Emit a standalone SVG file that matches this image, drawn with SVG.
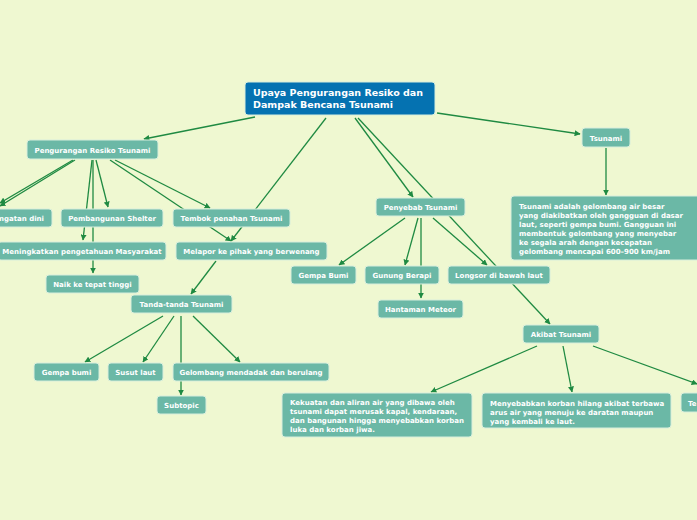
<svg xmlns="http://www.w3.org/2000/svg" width="697" height="520" viewBox="0 0 697 520">
<style>
.n{fill:#6bb8a6;stroke:#d8eedc;stroke-width:1}
.t{font-family:"DejaVu Sans",Verdana,sans-serif;font-weight:bold;font-size:7px;fill:#fff}
.c line{stroke:#1f8a42;stroke-width:1.3;marker-end:url(#a)}
</style>
<defs><marker id="a" viewBox="0 0 10 10" refX="9" refY="5" markerWidth="6" markerHeight="6" orient="auto" markerUnits="userSpaceOnUse"><path d="M0,0L10,5L0,10z" fill="#1f8a42"/></marker></defs>
<rect width="697" height="520" fill="#eff8d1"/>
<g class="c">
<line x1="255" y1="117" x2="144" y2="139"/>
<line x1="326" y1="118" x2="231" y2="241"/>
<line x1="355" y1="118" x2="413" y2="197"/>
<line x1="358" y1="118" x2="550" y2="324"/>
<line x1="437" y1="113" x2="580" y2="134"/>
<line x1="606" y1="148" x2="606" y2="195"/>
<line x1="73" y1="160" x2="0" y2="203"/>
<line x1="75" y1="160" x2="0" y2="206"/>
<line x1="92" y1="160" x2="83" y2="240"/>
<line x1="93" y1="160" x2="93" y2="273"/>
<line x1="96" y1="160" x2="108" y2="207"/>
<line x1="115" y1="160" x2="210" y2="208"/>
<line x1="110" y1="160" x2="231" y2="241"/>
<line x1="216" y1="261" x2="191" y2="294"/>
<line x1="163" y1="316" x2="85" y2="362"/>
<line x1="174" y1="316" x2="143" y2="362"/>
<line x1="193" y1="316" x2="240" y2="362"/>
<line x1="181" y1="316" x2="181" y2="395"/>
<line x1="405" y1="218" x2="339" y2="265"/>
<line x1="418" y1="218" x2="405" y2="265"/>
<line x1="421" y1="218" x2="421" y2="298"/>
<line x1="433" y1="218" x2="487" y2="265"/>
<line x1="537" y1="346" x2="431" y2="392"/>
<line x1="563" y1="346" x2="572" y2="392"/>
<line x1="593" y1="346" x2="697" y2="384"/>
</g>
<g id="root"><rect x="245" y="82" width="190" height="33" rx="3" fill="#0572b1" stroke="#d8eedc"/><text x="253" y="96" class="t" style="font-size:9.5px">Upaya Pengurangan Resiko dan</text><text x="253" y="108" class="t" style="font-size:9.5px">Dampak Bencana Tsunami</text></g>
<g id="n1"><rect class="n" x="27" y="140" width="131" height="19" rx="3"/><text class="t" x="92.5" y="152.5" text-anchor="middle">Pengurangan Resiko Tsunami</text></g>
<g id="n2"><rect class="n" x="-40" y="209" width="92" height="18" rx="3"/><text class="t" x="44" y="221" text-anchor="end">Peringatan dini</text></g>
<g id="n3"><rect class="n" x="61" y="209" width="102" height="18" rx="3"/><text class="t" x="112" y="221" text-anchor="middle">Pembangunan Shelter</text></g>
<g id="n4"><rect class="n" x="173" y="209" width="117" height="18" rx="3"/><text class="t" x="231.5" y="221" text-anchor="middle">Tembok penahan Tsunami</text></g>
<g id="n5"><rect class="n" x="-2" y="242" width="168" height="18" rx="3"/><text class="t" x="82" y="254" text-anchor="middle">Meningkatkan pengetahuan Masyarakat</text></g>
<g id="n6"><rect class="n" x="176" y="242" width="151" height="18" rx="3"/><text class="t" x="251.5" y="254" text-anchor="middle">Melapor ke pihak yang berwenang</text></g>
<g id="n7"><rect class="n" x="46" y="275" width="93" height="18" rx="3"/><text class="t" x="92.5" y="287" text-anchor="middle">Naik ke tepat tinggi</text></g>
<g id="n8"><rect class="n" x="131" y="295" width="101" height="18" rx="3"/><text class="t" x="181.5" y="307" text-anchor="middle">Tanda-tanda Tsunami</text></g>
<g id="n9"><rect class="n" x="34" y="363" width="65" height="18" rx="3"/><text class="t" x="66.5" y="375" text-anchor="middle">Gempa bumi</text></g>
<g id="n10"><rect class="n" x="108" y="363" width="55" height="18" rx="3"/><text class="t" x="135.5" y="375" text-anchor="middle">Susut laut</text></g>
<g id="n11"><rect class="n" x="173" y="363" width="156" height="18" rx="3"/><text class="t" x="251" y="375" text-anchor="middle">Gelombang mendadak dan berulang</text></g>
<g id="n12"><rect class="n" x="157" y="396" width="49" height="18" rx="3"/><text class="t" x="181.5" y="408" text-anchor="middle">Subtopic</text></g>
<g id="n13"><rect class="n" x="376" y="198" width="89" height="18" rx="3"/><text class="t" x="420.5" y="210" text-anchor="middle">Penyebab Tsunami</text></g>
<g id="n14"><rect class="n" x="291" y="266" width="65" height="18" rx="3"/><text class="t" x="323.5" y="278" text-anchor="middle">Gempa Bumi</text></g>
<g id="n15"><rect class="n" x="365" y="266" width="74" height="18" rx="3"/><text class="t" x="402" y="278" text-anchor="middle">Gunung Berapi</text></g>
<g id="n16"><rect class="n" x="448" y="266" width="102" height="18" rx="3"/><text class="t" x="499" y="278" text-anchor="middle">Longsor di bawah laut</text></g>
<g id="n17"><rect class="n" x="378" y="300" width="85" height="18" rx="3"/><text class="t" x="420.5" y="312" text-anchor="middle">Hantaman Meteor</text></g>
<g id="n18"><rect class="n" x="523" y="325" width="76" height="18" rx="3"/><text class="t" x="561" y="337" text-anchor="middle">Akibat Tsunami</text></g>
<g id="n19"><rect class="n" x="582" y="128" width="48" height="19" rx="3"/><text class="t" x="606" y="140.5" text-anchor="middle">Tsunami</text></g>
<g id="n20"><rect class="n" x="511" y="196" width="192" height="64" rx="3"/><text class="t" x="519" y="209">Tsunami adalah gelombang air besar</text><text class="t" x="519" y="218">yang diakibatkan oleh gangguan di dasar</text><text class="t" x="519" y="227">laut, seperti gempa bumi. Gangguan ini</text><text class="t" x="519" y="236">membentuk gelombang yang menyebar</text><text class="t" x="519" y="245">ke segala arah dengan kecepatan</text><text class="t" x="519" y="254">gelombang mencapai 600–900 km/jam</text></g>
<g id="n21"><rect class="n" x="282" y="393" width="190" height="44" rx="3"/><text class="t" x="290" y="405">Kekuatan dan aliran air yang dibawa oleh</text><text class="t" x="290" y="414">tsunami dapat merusak kapal, kendaraan,</text><text class="t" x="290" y="423">dan bangunan hingga menyebabkan korban</text><text class="t" x="290" y="432">luka dan korban jiwa.</text></g>
<g id="n22"><rect class="n" x="482" y="393" width="189" height="35" rx="3"/><text class="t" x="490" y="406">Menyebabkan korban hilang akibat terbawa</text><text class="t" x="490" y="415">arus air yang menuju ke daratan maupun</text><text class="t" x="490" y="424">yang kembali ke laut.</text></g>
<g id="n23"><rect class="n" x="681" y="393" width="40" height="19" rx="3"/><text class="t" x="688" y="405.5">Te</text></g>
</svg>
